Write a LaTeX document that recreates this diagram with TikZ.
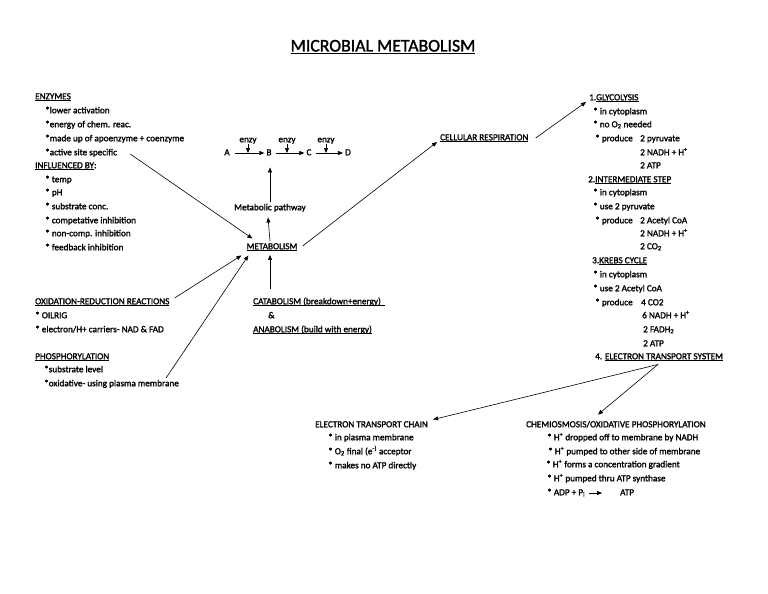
\documentclass[tikz,border=0pt]{standalone}
\usepackage{fontspec}
\setmainfont{Carlito}[AutoFakeBold=1.6]
\usetikzlibrary{arrows.meta}
\newcommand{\myul}[1]{\setbox0\hbox{#1}\leavevmode\rlap{\rule[-1.6pt]{\wd0}{0.6pt}}\box0}
\newcommand{\myult}[1]{\setbox0\hbox{#1}\leavevmode\rlap{\rule[-3pt]{\wd0}{1.2pt}}\box0}
\begin{document}
\begin{tikzpicture}[x=1pt,y=-1pt,
 txt/.style={anchor=west,inner sep=0pt,font=\fontsize{9.2}{10}\selectfont\bfseries,text height=6.5pt,text depth=2pt},
 txc/.style={txt,anchor=center},
 arr/.style={-{Triangle[length=5pt,width=4pt]},line width=0.6pt}]
\fill[white] (0,0) rectangle (768,594);
\useasboundingbox (0,0) rectangle (768,594);

% title
\node[txc,font=\fontsize{17.8}{20}\selectfont\bfseries,text height=12pt,text depth=3pt] (title) at (383,47) {\myult{MICROBIAL METABOLISM}};

% left column
\node[txt] (enz) at (35,97) {\myul{ENZYMES}};
\node[txt] (l1) at (45,111) {*lower activation};
\node[txt] (l2) at (45,125) {*energy of chem. reac.};
\node[txt] (l3) at (45,139) {*made up of apoenzyme + coenzyme};
\node[txt] (l4) at (45,153) {*active site specific};
\node[txt] (inf) at (35,166) {\myul{INFLUENCED BY}:};
\node[txt] (i1) at (45,180) {* temp};
\node[txt] (i2) at (45,193) {* pH};
\node[txt] (i3) at (45,207) {* substrate conc.};
\node[txt] (i4) at (45,221) {* competative inhibition};
\node[txt] (i5) at (45,234) {* non-comp. inhibition};
\node[txt] (i6) at (45,248) {* feedback inhibition};

\node[txt] (ox) at (35,302) {\myul{OXIDATION-REDUCTION REACTIONS}};
\node[txt] (o1) at (35,316) {* OILRIG};
\node[txt] (o2) at (35,330) {* electron/H+ carriers- NAD \& FAD};
\node[txt] (ph) at (35,357) {\myul{PHOSPHORYLATION}};
\node[txt] (p1) at (44,370) {*substrate level};
\node[txt] (p2) at (44,384) {*oxidative- using plasma membrane};

% middle
\node[txc] (A) at (227,153) {A};
\node[txc] (B) at (269,153) {B};
\node[txc] (C) at (309,153) {C};
\node[txc] (D) at (348,153) {D};
\node[txc] (e1) at (248,140) {enzy};
\node[txc] (e2) at (287,140) {enzy};
\node[txc] (e3) at (326,140) {enzy};
\draw[arr] ([xshift=5pt]A.east) -- ([xshift=-2pt]B.west);
\draw[arr] ([xshift=4pt]B.east) -- ([xshift=-2pt]C.west);
\draw[arr] ([xshift=4pt]C.east) -- ([xshift=-2pt]D.west);
\draw[arr] (e1.south) -- (e1.south |- A.center);
\draw[arr] (e2.south) -- (e2.south |- B.center);
\draw[arr] (e3.south) -- (e3.south |- C.center);

\node[txc] (mp) at (270,208) {Metabolic pathway};
\node[txc] (met) at (272,247) {\myul{METABOLISM}};
\draw[arr] ([xshift=-2pt,yshift=1.5pt]met.north) -- ([xshift=-2pt,yshift=-5pt]mp.south);
\draw[arr] ([yshift=1.5pt]mp.north) -- ([xshift=1pt,yshift=-10pt]B.south);

\node[txt] (cat) at (253,302) {\myul{CATABOLISM (breakdown+energy)\ \ }};
\node[txt] (amp) at (268,316) {\&};
\node[txt] (ana) at (253,330) {\myul{ANABOLISM (build with energy)}};
\draw[arr] ([xshift=17pt,yshift=9pt]cat.north west) -- ([xshift=-2pt,yshift=-3.5pt]met.south);

\draw[arr] ([xshift=13pt,yshift=-1pt]l4.east) -- ([xshift=6pt,yshift=4pt]met.north west);
\draw[arr] ([xshift=5pt,yshift=4pt]ox.east) -- ([xshift=-5pt,yshift=-4pt]met.south west);
\draw[arr] ([xshift=-13pt,yshift=6pt]p2.east) -- ([xshift=2pt,yshift=-4pt]met.south west);

\node[txt] (cr) at (440,138) {\myul{CELLULAR RESPIRATION}};
\draw[arr] ([xshift=5pt,yshift=1pt]met.east) -- ([xshift=-3pt,yshift=-4pt]cr.west);

% right column
\node[txt] (gly) at (589,98) {1.\myul{GLYCOLYSIS}};
\draw[arr] ([xshift=7pt]cr.east) -- ([xshift=-3pt,yshift=-4pt]gly.west);
\node[txt] (g1) at (593,112) {* in cytoplasm};
\node[txt] (g2) at (593,125) {* no O\textsubscript{2} needed};
\node[txt] (g3) at (595,139) {* produce};
\node[txt] (g3v) at (640,139) {2 pyruvate};
\node[txt] (g4v) at (640,153) {2 NADH + H\textsuperscript{+}};
\node[txt] (g5v) at (640,166) {2 ATP};

\node[txt] (int) at (588,180) {2.\myul{INTERMEDIATE STEP}};
\node[txt] (n1) at (593,193) {* in cytoplasm};
\node[txt] (n2) at (593,207) {* use 2 pyruvate};
\node[txt] (n3) at (595,221) {* produce};
\node[txt] (n3v) at (640,221) {2 Acetyl CoA};
\node[txt] (n4v) at (640,234) {2 NADH + H\textsuperscript{+}};
\node[txt] (n5v) at (640,247) {2 CO\textsubscript{2}};

\node[txt] (kre) at (592,261) {3.\myul{KREBS CYCLE}};
\node[txt] (k1) at (593,275) {* in cytoplasm};
\node[txt] (k2) at (593,289) {* use 2 Acetyl CoA};
\node[txt] (k3) at (595,303) {* produce};
\node[txt] (k3v) at (641,303) {4 CO2};
\node[txt] (k4v) at (642,316) {6 NADH + H\textsuperscript{+}};
\node[txt] (k5v) at (643,330) {2 FADH\textsubscript{2}};
\node[txt] (k6v) at (643,344) {2 ATP};

\node[txt] (ets) at (595,357) {4. \myul{ELECTRON TRANSPORT SYSTEM}};
\coordinate (etso) at ([xshift=63pt,yshift=-3pt]ets.south west);

% bottom
\node[txt] (etc) at (315,425) {ELECTRON TRANSPORT CHAIN};
\node[txt] (t1) at (328,438) {* in plasma membrane};
\node[txt] (t2) at (328,452) {* O\textsubscript{2} final (e\textsuperscript{-)} acceptor};
\node[txt] (t3) at (328,466) {* makes no ATP directly};

\node[txt] (chem) at (526,425) {CHEMIOSMOSIS/OXIDATIVE PHOSPHORYLATION};
\node[txt] (c1) at (547,438) {* H\textsuperscript{+} dropped off to membrane by NADH};
\node[txt] (c2) at (548,452) {* H\textsuperscript{+} pumped to other side of membrane};
\node[txt] (c3) at (546,465) {* H\textsuperscript{+} forms a concentration gradient};
\node[txt] (c4) at (547,479) {* H\textsuperscript{+} pumped thru ATP synthase};
\node[txt] (c5) at (547,493) {* ADP + P\textsubscript{i}};
\node[txt] (atp) at (620,493) {ATP};
\draw[arr] ([xshift=4pt]c5.east) -- ([xshift=-18pt]atp.west);

\draw[arr] (etso) -- ([xshift=5pt,yshift=1pt]etc.north east);
\draw[arr] (etso) -- ([xshift=72pt,yshift=6pt]chem.north west);
\end{tikzpicture}
\end{document}
